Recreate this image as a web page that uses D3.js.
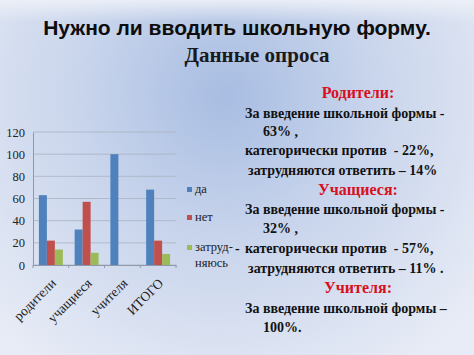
<!DOCTYPE html>
<html>
<head>
<meta charset="utf-8">
<script src="https://cdn.jsdelivr.net/npm/d3@7"></script>
<style>
  body { margin: 0; padding: 0; overflow: hidden; }
  svg { display: block; }
</style>
</head>
<body>
<div id="chart"></div>
<script>
// size of the slide
const width = 474, height = 355;

// survey data
const categories = ['родители', 'учащиеся', 'учителя', 'ИТОГО'];
const seriesNames = ['да', 'нет', 'затруд-няюсь'];
const yesValues = [63, 32, 100, 68];
const noValues = [22, 57, 0, 22];
const unsureValues = [14, 11, 0, 10];
const yTicks = [0, 20, 40, 60, 80, 100, 120];

const titleText = 'Нужно ли вводить школьную форму.';
const subtitleText = 'Данные опроса';
// right side notes: [text, kind]
const notes = [
  ['Родители:', 'head'],
  ['За введение школьной формы -', 'line'],
  ['63% ,', 'indent'],
  ['категорически против  - 22%,', 'line'],
  ['затрудняются ответить – 14%', 'line2'],
  ['Учащиеся:', 'head'],
  ['За введение школьной формы -', 'line'],
  ['32% ,', 'indent'],
  ['категорически против  - 57%,', 'line'],
  ['затрудняются ответить – 11% .', 'line2'],
  ['Учителя:', 'head'],
  ['За введение школьной формы –', 'line'],
  ['100%.', 'indent']
];

const colors = ['#4f81bd', '#c0504d', '#9bbb59'];

const svg = d3.select('#chart').append('svg')
  .attr('width', width)
  .attr('height', height);

// background gradient
const defs = svg.append('defs');
const rg = defs.append('radialGradient')
  .attr('id', 'bg')
  .attr('gradientUnits', 'userSpaceOnUse')
  .attr('cx', 225).attr('cy', 95).attr('r', 330);
rg.append('stop').attr('offset', '0%').attr('stop-color', '#a8bde2');
rg.append('stop').attr('offset', '45%').attr('stop-color', '#c9d5ec');
rg.append('stop').attr('offset', '100%').attr('stop-color', '#e8ecf6');
svg.append('rect').attr('width', width).attr('height', height).attr('fill', 'url(#bg)');

const lg = defs.append('linearGradient').attr('id', 'topfade')
  .attr('x1', 0).attr('y1', 0).attr('x2', 0).attr('y2', 1);
lg.append('stop').attr('offset', '0%').attr('stop-color', '#eef1f8').attr('stop-opacity', 0.9);
lg.append('stop').attr('offset', '100%').attr('stop-color', '#eef1f8').attr('stop-opacity', 0);
svg.append('rect').attr('width', width).attr('height', 22).attr('fill', 'url(#topfade)');

// titles
svg.append('text')
  .attr('x', 237).attr('y', 35)
  .attr('text-anchor', 'middle')
  .style('font-family', '"Liberation Sans", Arial, sans-serif')
  .style('font-weight', 'bold')
  .style('font-size', '21px')
  .attr('fill', '#0d0d0d')
  .text(titleText);

svg.append('text')
  .attr('x', 257).attr('y', 62)
  .attr('text-anchor', 'middle')
  .style('font-family', '"Liberation Serif", "Times New Roman", serif')
  .style('font-weight', 'bold')
  .style('font-size', '21px')
  .attr('fill', '#1a1a1a')
  .text(subtitleText);

// chart
const plot = {left: 33, right: 176, top: 132, bottom: 265};

const x0 = d3.scaleBand()
  .domain(categories)
  .range([plot.left, plot.right])
  .paddingInner(0.33)
  .paddingOuter(0.165);

const x1 = d3.scaleBand()
  .domain(d3.range(3))
  .range([0, x0.bandwidth()]);

const y = d3.scaleLinear()
  .domain([0, 120])
  .range([plot.bottom, plot.top]);

const chartG = svg.append('g');

// gridlines
chartG.selectAll('.grid')
  .data(yTicks)
  .join('line')
    .attr('x1', plot.left).attr('x2', plot.right)
    .attr('y1', d => y(d)).attr('y2', d => y(d))
    .attr('stroke', '#a9b2c2')
    .attr('stroke-width', 0.8);

const yAxis = d3.axisLeft(y).tickValues(yTicks).tickSize(0).tickPadding(8);
const yG = chartG.append('g')
  .attr('transform', `translate(${plot.left},0)`)
  .call(yAxis);
yG.select('.domain').attr('stroke', '#8f98a8');
yG.selectAll('text')
  .style('font-family', '"Liberation Serif", "Times New Roman", serif')
  .style('font-size', '12.5px')
  .attr('fill', '#222');

const xAxis = d3.axisBottom(x0).tickSize(0).tickPadding(0);
const xG = chartG.append('g')
  .attr('transform', `translate(0,${plot.bottom})`)
  .call(xAxis);
xG.select('.domain').attr('stroke', '#8f98a8');
xG.selectAll('text')
  .style('font-family', '"Liberation Serif", "Times New Roman", serif')
  .style('font-size', '13.5px')
  .attr('fill', '#222')
  .attr('text-anchor', 'end')
  .attr('y', 0).attr('dy', 0)
  .attr('transform', 'translate(6,19) rotate(-45)');

// small ticks between categories
const bounds = d3.range(categories.length + 1).map(i => plot.left + i * x0.step());
xG.selectAll('.sep')
  .data(bounds)
  .join('line')
    .attr('x1', d => d).attr('x2', d => d)
    .attr('y1', 0).attr('y2', 3)
    .attr('stroke', '#8f98a8');

const table = categories.map((c, i) => ({
  cat: c,
  vals: [yesValues[i], noValues[i], unsureValues[i]]
}));

chartG.selectAll('.group')
  .data(table)
  .join('g')
    .attr('transform', d => `translate(${x0(d.cat)},0)`)
  .selectAll('rect')
  .data(d => d.vals)
  .join('rect')
    .attr('x', (d, i) => x1(i))
    .attr('y', d => y(d))
    .attr('width', x1.bandwidth())
    .attr('height', d => plot.bottom - y(d))
    .attr('fill', (d, i) => colors[i]);

// legend
const legendY = [190, 218, 248];
const legend = chartG.selectAll('.legend')
  .data(seriesNames)
  .join('g')
    .attr('transform', (d, i) => `translate(187,${legendY[i]})`);
legend.append('rect')
  .attr('x', 0).attr('y', -3)
  .attr('width', 5).attr('height', 5)
  .attr('fill', (d, i) => colors[i]);
legend.append('text')
  .attr('x', 8).attr('y', 3)
  .style('font-family', '"Liberation Serif", "Times New Roman", serif')
  .style('font-size', '12.5px')
  .attr('fill', '#222')
  .each(function(d) {
    const parts = d.split('-');
    const t = d3.select(this);
    if (parts.length === 1) { t.text(d); return; }
    t.append('tspan').attr('x', 8).attr('dy', 0).text(parts[0] + '-');
    t.append('tspan').attr('x', 8).attr('dy', 16).text(parts[1]);
  });

// notes on the right
const noteY = [98, 118, 136, 155, 175, 195, 214, 233, 253, 273, 293, 313, 332];
const noteG = svg.append('g')
  .style('font-family', '"Liberation Serif", "Times New Roman", serif')
  .style('font-weight', 'bold');

noteG.selectAll('text')
  .data(notes)
  .join('text')
    .attr('x', d => d[1] === 'head' ? 358 : d[1] === 'indent' ? 263 : d[1] === 'line2' ? 248 : 245)
    .attr('y', (d, i) => noteY[i])
    .attr('text-anchor', d => d[1] === 'head' ? 'middle' : 'start')
    .attr('fill', d => d[1] === 'head' ? '#d8101e' : '#111')
    .style('font-size', d => d[1] === 'head' ? '16px' : '14px')
    .style('white-space', 'pre')
    .text(d => d[0]);

// stray dash at the left of one line
noteG.append('text')
  .attr('x', 235).attr('y', noteY[8])
  .style('font-size', '14px')
  .attr('fill', '#111')
  .text('-');
</script>
</body>
</html>
